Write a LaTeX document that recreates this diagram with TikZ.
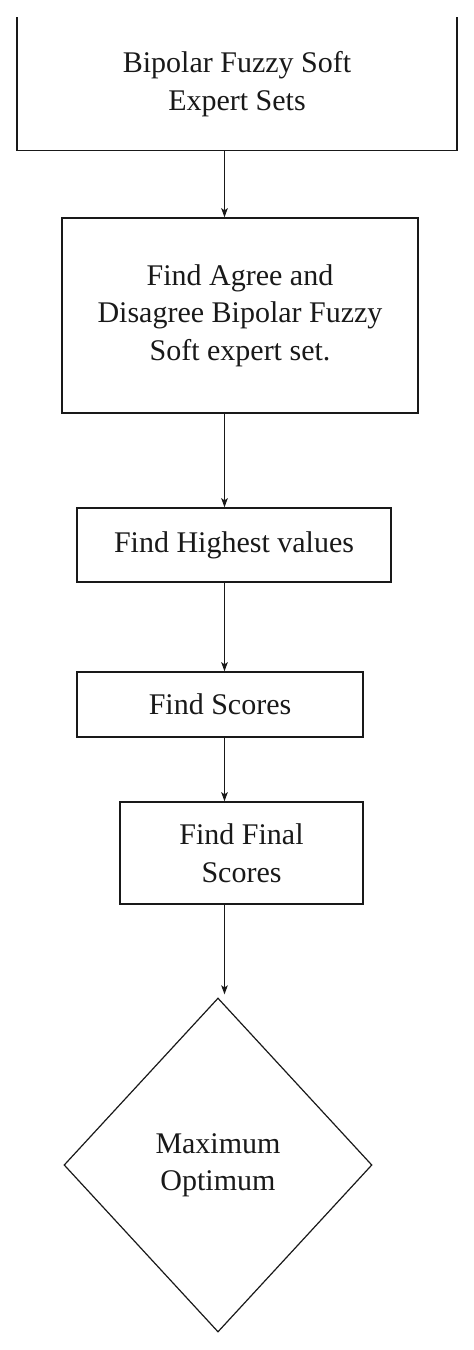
\documentclass[tikz,border=0pt]{standalone}
\usepackage{fontspec}
\setmainfont{Liberation Serif}
\usetikzlibrary{arrows.meta,shapes.geometric,calc}
\definecolor{ink}{RGB}{25,25,25}
\begin{document}
\begin{tikzpicture}[x=1pt,y=-1pt,
  every node/.style={font=\fontsize{30}{37.5}\selectfont, text=ink, align=center, inner sep=0pt},
  boxnode/.style={draw=ink, line width=1.5pt, rectangle},
  opennode/.style={rectangle},
  decision/.style={draw=ink, line width=1.2pt, diamond, aspect=0.922},
  arr/.style={draw=ink, line width=1.4pt, -{Stealth[length=9pt,width=6.5pt,inset=2pt]}}
]
\useasboundingbox (0,0) rectangle (474,1350);
\coordinate (ax) at (224.5,0);

\node[opennode, minimum width=440pt, minimum height=133pt] (b1) at (237,84) {Bipolar Fuzzy Soft\\Expert Sets};
\draw[ink, line width=1.5pt] (b1.north west) -- (b1.south west) -- (b1.south east) -- (b1.north east);

\node[boxnode, minimum width=356pt, minimum height=195pt] (b2) at (240,315.5) {Find Agree and\\Disagree Bipolar Fuzzy\\Soft expert set.};
\node[boxnode, minimum width=314pt, minimum height=74pt] (b3) at (234,545) {Find Highest values};
\node[boxnode, minimum width=286pt, minimum height=65pt] (b4) at (220,704.5) {Find Scores};
\node[boxnode, minimum width=243pt, minimum height=102pt] (b5) at (241.5,853) {Find Final\\Scores};
\node[decision, minimum width=308pt, minimum height=334pt] (d) at (218,1165) {Maximum\\Optimum};

\draw[arr] (b1.south -| ax) -- (b2.north -| ax);
\draw[arr] (b2.south -| ax) -- (b3.north -| ax);
\draw[arr] (b3.south -| ax) -- (b4.north -| ax);
\draw[arr] (b4.south -| ax) -- (b5.north -| ax);
\draw[arr, shorten >=3pt] (b5.south -| ax) -- (d.north -| ax);
\end{tikzpicture}
\end{document}
